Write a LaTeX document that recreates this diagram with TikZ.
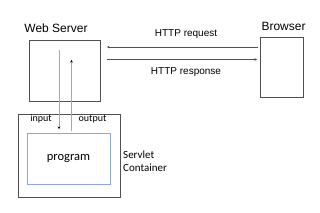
\documentclass[tikz,border=0pt]{standalone}
\usepackage{fontspec}
\setmainfont{Liberation Sans}
\newfontfamily\carlitofam{Carlito}
\usetikzlibrary{arrows.meta}
\definecolor{boxgray}{HTML}{505050}
\definecolor{linegray}{HTML}{A8A8A8}
\definecolor{progblue}{HTML}{8FA9D6}
\begin{document}
\begin{tikzpicture}[x=1pt,y=-1pt,
  box/.style={draw=boxgray,line width=0.8pt},
  lbl/.style={inner sep=0pt,font=\fontsize{12}{14}\selectfont},
  small/.style={inner sep=0pt,font=\fontsize{10}{12}\selectfont},
  calt/.style={inner sep=0pt,font=\carlitofam\fontsize{10}{12}\selectfont},
  arr/.style={draw=boxgray,line width=0.7pt,-{Stealth[length=2.5pt,width=2.5pt]}},
  varr/.style={draw=linegray,line width=0.9pt,-{Stealth[length=2.5pt,width=2.5pt,color=black]}}]
\useasboundingbox (0,0) rectangle (320,212);
% boxes
\draw[box] (29,40) rectangle (100,101);
\draw[box] (260,37) rectangle (303,97);
\draw[box] (18,114) rectangle (120,197);
\draw[draw=progblue,line width=0.8pt] (27,133) rectangle (110,184);
% labels
\node[lbl] (wsl) at (56,28) {Web Server};
\node[lbl] (brl) at (283.5,26) {Browser};
\node[small] (req) at (186,34) {HTTP request};
\node[small] (resp) at (186,72) {HTTP response};
\node[inner sep=0pt,font=\carlitofam\fontsize{12.5}{15}\selectfont] (prog) at (68.5,159) {program};
\node[calt,anchor=west,align=left,font=\carlitofam\fontsize{11}{13}\selectfont] (sc) at (123,161) {Servlet\\Container};
\node[calt] (inp) at (41,119) {input};
\node[calt] (outp) at (92.5,119) {output};
% connectors
\coordinate (rq1) at (258,47);
\coordinate (rq2) at (107,47);
\coordinate (rs1) at (107,59.5);
\coordinate (rs2) at (257,59.5);
\draw[arr] (rq1) -- (rq2);
\draw[arr] (rs1) -- (rs2);
\coordinate (i1) at (59,50);
\coordinate (i2) at (59,129);
\coordinate (o1) at (71.5,131);
\coordinate (o2) at (71.5,60);
\draw[varr] (i1) -- (i2);
\draw[varr] (o1) -- (o2);
\end{tikzpicture}
\end{document}
